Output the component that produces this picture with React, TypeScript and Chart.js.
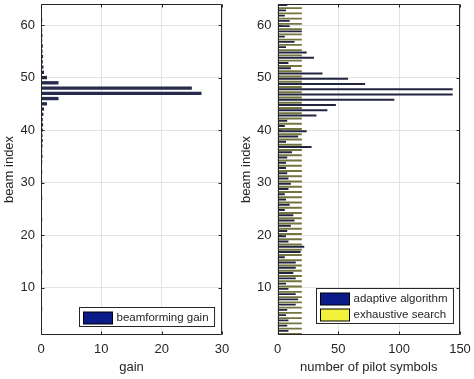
import React, { useEffect, useRef } from 'react';
import { Chart, registerables } from 'chart.js';

Chart.register(...registerables);

// ---------- data ----------
const beamIndex = [
  1, 2, 3, 4, 5, 6, 7, 8, 9, 10, 11, 12, 13, 14, 15, 16,
  17, 18, 19, 20, 21, 22, 23, 24, 25, 26, 27, 28, 29, 30, 31, 32,
  33, 34, 35, 36, 37, 38, 39, 40, 41, 42, 43, 44, 45, 46, 47, 48,
  49, 50, 51, 52, 53, 54, 55, 56, 57, 58, 59, 60, 61, 62, 63, 64,
];

const beamformingGain = [
  0.15, 0.1, 0.15, 0.1, 0.15, 0.2, 0.1, 0.15, 0.1, 0.15,
  0.1, 0.15, 0.2, 0.1, 0.15, 0.1, 0.15, 0.2, 0.1, 0.15,
  0.15, 0.1, 0.2, 0.15, 0.1, 0.15, 0.2, 0.1, 0.15, 0.2,
  0.15, 0.2, 0.15, 0.2, 0.25, 0.2, 0.25, 0.3, 0.25, 0.3,
  0.35, 0.3, 0.4, 0.5, 1.0, 2.9, 26.6, 25.0, 2.9, 1.0,
  0.5, 0.4, 0.3, 0.35, 0.25, 0.3, 0.2, 0.25, 0.2, 0.15,
  0.2, 0.15, 0.1, 0.15,
];

const adaptivePilots = [
  6, 9, 8, 9, 7, 8, 15, 17, 15, 9,
  7, 15, 13, 15, 15, 6, 19, 22, 9, 7,
  8, 11, 14, 13, 6, 10, 7, 6, 9, 11,
  9, 8, 7, 7, 8, 12, 28, 7, 17, 24,
  6, 8, 32, 41, 48, 96, 144, 144, 72, 58,
  37, 11, 9, 30, 24, 7, 14, 6, 20, 10,
  10, 6, 7, 8,
];

const exhaustivePilots = [
  20, 20, 20, 20, 20, 20, 20, 20, 20, 20, 20, 20, 20, 20, 20, 20,
  20, 20, 20, 20, 20, 20, 20, 20, 20, 20, 20, 20, 20, 20, 20, 20,
  20, 20, 20, 20, 20, 20, 20, 20, 20, 20, 20, 20, 20, 20, 20, 20,
  20, 20, 20, 20, 20, 20, 20, 20, 20, 20, 20, 20, 20, 20, 20, 20,
];

const beamTicks = [10, 20, 30, 40, 50, 60];
const gainTicks = [0, 10, 20, 30];
const pilotTicks = [0, 50, 100, 150];

// ---------- styles ----------
const FONT_FAMILY = "'Liberation Sans', Arial, Helvetica, sans-serif";
const TEXT = '#262626';
const GRID = '#e3e3e3';

const boxPlugin = {
  id: 'matlabBox',
  afterDatasetsDraw(chart: any, _args: any, opts: any) {
    const { ctx, chartArea } = chart;
    const { left, right, top, bottom } = chartArea;
    const xs = chart.scales.x;
    const ys = chart.scales.y;
    ctx.save();
    ctx.strokeStyle = TEXT;
    ctx.lineWidth = 1;
    const L = Math.round(left) + 0.5;
    const R = Math.round(right) - 0.5;
    const T = Math.round(top) + 0.5;
    const B = Math.round(bottom) - 0.5;
    ctx.beginPath();
    ctx.rect(L, T, R - L, B - T);
    ctx.stroke();
    const tl = 3;
    ctx.beginPath();
    (opts.xTicks || []).forEach((v: number) => {
      const px = Math.round(xs.getPixelForValue(v)) + 0.5;
      ctx.moveTo(px, B); ctx.lineTo(px, B - tl);
      ctx.moveTo(px, T); ctx.lineTo(px, T + tl);
    });
    (opts.yTicks || []).forEach((v: number) => {
      const py = Math.round(ys.getPixelForValue(v)) + 0.5;
      ctx.moveTo(L, py); ctx.lineTo(L + tl, py);
      ctx.moveTo(R, py); ctx.lineTo(R - tl, py);
    });
    ctx.stroke();

    // legend box
    const items = opts.legend || [];
    if (items.length) {
      ctx.font = `11.5px ${FONT_FAMILY}`;
      let tw = 0;
      items.forEach((it: any) => { tw = Math.max(tw, ctx.measureText(it.label).width); });
      const patchW = 29, patchH = 12, rowH = 16;
      const boxW = 4 + patchW + 4 + tw + 6;
      const boxH = items.length * rowH + 3;
      const bx = Math.round(right - opts.legendRight - boxW) + 0.5;
      const by = Math.round(bottom - opts.legendBottom - boxH) + 0.5;
      ctx.fillStyle = '#ffffff';
      ctx.fillRect(bx, by, boxW, boxH);
      ctx.strokeStyle = TEXT;
      ctx.lineWidth = 1;
      ctx.strokeRect(bx, by, boxW, boxH);
      items.forEach((it: any, i: number) => {
        const cy = by + 2 + i * rowH + rowH / 2;
        ctx.fillStyle = it.color;
        ctx.fillRect(bx + 4, Math.round(cy - patchH / 2), patchW, patchH);
        ctx.strokeStyle = '#000000';
        ctx.strokeRect(bx + 4, Math.round(cy - patchH / 2), patchW, patchH);
        ctx.fillStyle = TEXT;
        ctx.textBaseline = 'middle';
        ctx.textAlign = 'left';
        ctx.fillText(it.label, bx + 4 + patchW + 4, cy + 0.5);
      });
    }
    ctx.restore();
  },
};

function axisCommon(ticksArr: number[]) {
  return {
    offset: false,
    afterBuildTicks: (s: any) => { s.ticks = ticksArr.map((v) => ({ value: v })); },
    grid: { color: GRID, drawTicks: false, lineWidth: 1, offset: false },
    border: { display: false },
  };
}

function makeConfig(kind: 'gain' | 'pilots') {
  const isGain = kind === 'gain';
  const xTicks = isGain ? gainTicks : pilotTicks;
  const datasets = isGain
    ? [
        {
          label: 'beamforming gain',
          data: beamIndex.map((b, i) => ({ x: beamformingGain[i], y: b })),
          backgroundColor: '#262a4c',
          borderWidth: 0,
          categoryPercentage: 0.8,
          barPercentage: 0.8,
        },
      ]
    : [
        {
          label: 'exhaustive search',
          data: beamIndex.map((b, i) => ({ x: exhaustivePilots[i], y: b })),
          backgroundColor: '#74743f',
          borderWidth: 0,
          categoryPercentage: 0.86,
          barPercentage: 0.85,
        },
        {
          label: 'adaptive algorithm',
          data: beamIndex.map((b, i) => ({ x: adaptivePilots[i], y: b })),
          backgroundColor: '#22253f',
          borderWidth: 0,
          categoryPercentage: 0.86,
          barPercentage: 0.85,
        },
      ];
  const font = { family: FONT_FAMILY, size: 13 };
  return {
    type: 'bar' as const,
    data: { datasets },
    plugins: [boxPlugin],
    options: {
      animation: false,
      responsive: false,
      devicePixelRatio: 1,
      indexAxis: 'y' as const,
      layout: { padding: { top: 4, bottom: 0, left: 0, right: isGain ? 15 : 14 } },
      plugins: {
        legend: { display: false },
        tooltip: { enabled: false },
        matlabBox: {
          xTicks,
          yTicks: beamTicks,
          legend: isGain
            ? [{ label: 'beamforming gain', color: '#0b1c88' }]
            : [
                { label: 'adaptive algorithm', color: '#0b1c88' },
                { label: 'exhaustive search', color: '#f2f23a' },
              ],
          legendRight: isGain ? 8 : 7,
          legendBottom: isGain ? 9 : 12,
        },
      },
      scales: {
        x: {
          type: 'linear',
          min: 0,
          max: isGain ? 30 : 150,
          ...axisCommon(xTicks),
          afterFit: (s: any) => {
            s.height = 44;
            s.paddingLeft = 0;
            s.paddingRight = 0;
            s.paddingTop = 0;
            s.paddingBottom = 0;
          },
          ticks: { padding: 7, font, color: TEXT },
          title: {
            display: true,
            text: isGain ? 'gain' : 'number of pilot symbols',
            font: { ...font, lineHeight: 1.2 },
            color: TEXT,
            padding: { top: 0, bottom: 4 },
          },
        },
        y: {
          type: 'linear',
          min: 1,
          max: 64,
          ...axisCommon(beamTicks),
          afterFit: (s: any) => {
            s.width = isGain ? 41 : 40.5;
            s.paddingLeft = 0;
            s.paddingRight = 0;
            s.paddingTop = 0;
            s.paddingBottom = 0;
          },
          ticks: { padding: 6, font, color: TEXT },
          title: {
            display: true,
            text: 'beam index',
            font: { ...font, lineHeight: 1.2 },
            color: TEXT,
            padding: { top: 2, bottom: 0 },
          },
        },
      },
    },
  };
}

export default function App() {
  const leftRef = useRef<HTMLCanvasElement>(null);
  const rightRef = useRef<HTMLCanvasElement>(null);

  useEffect(() => {
    const c1 = new Chart(leftRef.current as HTMLCanvasElement, makeConfig('gain') as any);
    const c2 = new Chart(rightRef.current as HTMLCanvasElement, makeConfig('pilots') as any);
    return () => {
      c1.destroy();
      c2.destroy();
    };
  }, []);

  return (
    <div style={{ position: 'absolute', left: 0, top: 0, width: 474, height: 379, background: '#ffffff' }}>
      <canvas ref={leftRef} width={237} height={379} style={{ position: 'absolute', left: 0, top: 0, display: 'block' }} />
      <canvas ref={rightRef} width={237} height={379} style={{ position: 'absolute', left: 237, top: 0, display: 'block' }} />
    </div>
  );
}
